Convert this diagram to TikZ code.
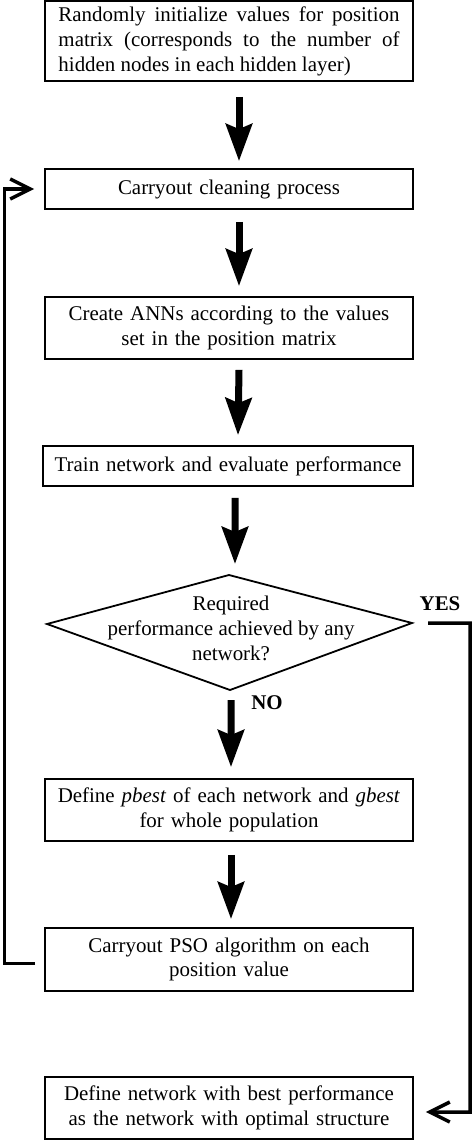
\documentclass[tikz,border=0pt]{standalone}
\usepackage{fontspec}
\setmainfont{Liberation Serif}
\usetikzlibrary{arrows.meta,calc}
\begin{document}
\begin{tikzpicture}[x=1bp,y=-1bp,
  box/.style={draw, line width=1.8bp, minimum width=368bp, inner sep=0pt,
    text width=360bp, align=center, font=\fontsize{21}{25}\selectfont, anchor=center},
  bigarrow/.style={line width=7bp, -{Stealth[length=37bp,width=26bp,inset=5bp]}},
  looparrow/.style={line width=3.5bp, line join=miter, -{Straight Barb[length=20bp,width=20bp]}},
  lbl/.style={font=\fontsize{21}{25}\selectfont\bfseries, inner sep=0pt}
]
\useasboundingbox (0,0) rectangle (474,1140);
\node[box, minimum height=80bp, text width=341bp, align=justify] (b1) at (229,41)
  {Randomly initialize values for position\linebreak matrix (corresponds to the number of\linebreak hidden nodes in each hidden layer)};
\node[box, minimum height=40bp] (b2) at (229,189) {Carryout cleaning process};
\node[box, minimum height=62bp] (b3) at (229,328) {Create ANNs according to the values\\set in the position matrix};
\node[box, minimum height=40bp, minimum width=370bp] (b4) at (228,466) {Train network and evaluate performance};
\coordinate (dt) at (229,575);
\coordinate (dl) at (47,624);
\coordinate (dr) at (412,623);
\coordinate (db) at (230,690);
\draw[line width=1.8bp, line join=miter] (dt) -- (dr) -- (db) -- (dl) -- cycle;
\node[font=\fontsize{21}{25}\selectfont, align=center, inner sep=0pt] (dtext) at (231,628)
  {Required\\performance achieved by any\\network?};
\node[box, minimum height=62bp] (b6) at (229,810) {Define \textit{pbest} of each network and \textit{gbest}\\for whole population};
\node[box, minimum height=63bp] (b7) at (229,959.5) {Carryout PSO algorithm on each\\position value};
\node[box, minimum height=62bp] (b8) at (229,1108) {Define network with best performance\\as the network with optimal structure};

\draw[bigarrow] ([xshift=10bp,yshift=-15bp]b1.south) -- ([xshift=10bp,yshift=7bp]b2.north);
\draw[bigarrow] ([xshift=10bp,yshift=-12bp]b2.south) -- ([xshift=10bp,yshift=10bp]b3.north);
\draw[bigarrow] ([xshift=10bp,yshift=-10bp]b3.south) -- ([xshift=10bp,yshift=10bp]b4.north);
\draw[bigarrow] ([xshift=7bp,yshift=-11bp]b4.south) -- ([xshift=6bp,yshift=11bp]dt);
\draw[bigarrow] ([xshift=1bp,yshift=-10bp]db) -- ([xshift=2bp,yshift=11bp]b6.north);
\draw[bigarrow] ([xshift=2bp,yshift=-13bp]b6.south) -- ([xshift=2bp,yshift=8bp]b7.north);

\node[lbl] (yes) at (440,604) {YES};
\node[lbl] (no) at (267,703) {NO};

\draw[looparrow] ([xshift=-9bp,yshift=-4bp]b7.west) -| (4.5,189) -- ([xshift=-10bp]b2.west);
\draw[looparrow] ([xshift=16bp]dr) -| (470,1112) -- ([xshift=12bp,yshift=-4bp]b8.east);
\end{tikzpicture}
\end{document}
